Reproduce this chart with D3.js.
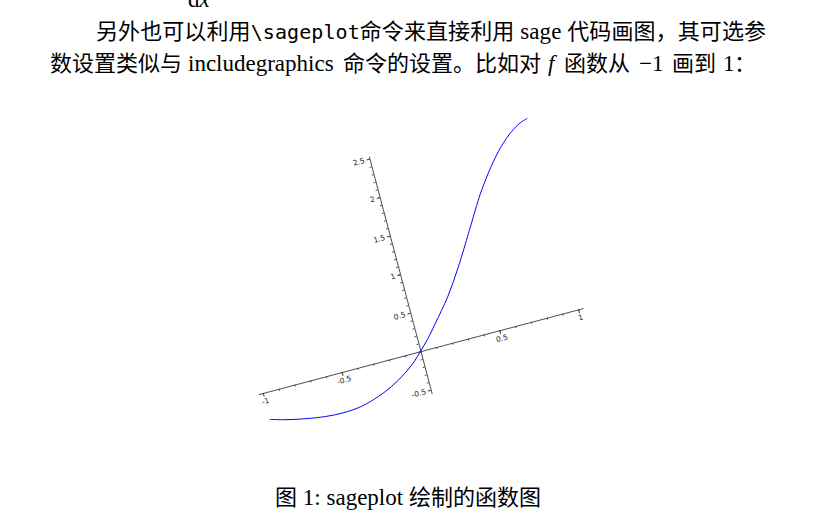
<!DOCTYPE html>
<html>
<head>
<meta charset="utf-8">
<script src="https://cdn.jsdelivr.net/npm/d3@7"></script>
<style>
  body { margin: 0; background: #fff; }
  .cjk { font-family: "Noto Sans CJK SC", sans-serif; }
  .rm { font-family: "Liberation Serif", serif; font-size: 23px; }
  .tt { font-family: "DejaVu Sans Mono", monospace; font-size: 20px; }
  .tick text { font-family: "DejaVu Sans", sans-serif; font-size: 7.5px; fill: #222; }
  .domain, .tick line { stroke: #333; stroke-width: 0.8; }
</style>
</head>
<body>
<svg width="828" height="527"></svg>
<script>
// curve: x and f(x)
var xVals = [-1, -0.91, -0.79, -0.67, -0.55, -0.435, -0.32, -0.225, -0.125, -0.05, 0,
             0.06, 0.13, 0.25, 0.36, 0.47, 0.505, 0.58, 0.62, 0.71, 0.8, 0.885, 0.95, 1];
var fVals = [-0.342, -0.394, -0.447, -0.485, -0.498, -0.478, -0.413, -0.333, -0.215, -0.10, 0,
             0.12, 0.285, 0.58, 0.91, 1.275, 1.393, 1.645, 1.768, 2.015, 2.222, 2.371, 2.449, 2.482];

// axis extents and ticks
var xDomain = [-1.03, 1.03];
var yDomain = [-0.55, 2.53];
var xTicks = [-1, -0.5, 0.5, 1];
var xTickLabels = ["-1", "-0.5", "0.5", "1"];
var yTicks = [-0.5, 0.5, 1, 1.5, 2, 2.5];
var yTickLabels = ["-0.5", "0.5", "1", "1.5", "2", "2.5"];

var svg = d3.select('svg');

// rotated plot, origin where the axes cross
var xUnit = 163.1, yUnit = 79.7;
var plot = svg.append('g')
  .attr('transform', 'translate(420.4,351.3) rotate(-14.85)');

var x = d3.scaleLinear().domain(xDomain).range([xDomain[0] * xUnit, xDomain[1] * xUnit]);
var y = d3.scaleLinear().domain(yDomain).range([-yDomain[0] * yUnit, -yDomain[1] * yUnit]);

var xMinor = d3.range(-10, 11).map(function(d){ return d / 10; });
var yMinor = d3.range(-5, 26).map(function(d){ return d / 10; });

// minor ticks first
plot.append('g')
  .attr('transform', 'translate(0,' + y(0) + ')')
  .call(d3.axisBottom(x).tickValues(xMinor).tickSize(2).tickFormat(''))
  .select('.domain').remove();
plot.append('g')
  .attr('transform', 'translate(' + x(0) + ',0)')
  .call(d3.axisLeft(y).tickValues(yMinor).tickSize(2).tickFormat(''))
  .select('.domain').remove();

// main axes
plot.append('g')
  .attr('transform', 'translate(0,' + y(0) + ')')
  .call(d3.axisBottom(x).tickValues(xTicks)
    .tickFormat(function(d, i){ return xTickLabels[i]; })
    .tickSize(4).tickPadding(1.5).tickSizeOuter(0));
plot.append('g')
  .attr('transform', 'translate(' + x(0) + ',0)')
  .call(d3.axisLeft(y).tickValues(yTicks)
    .tickFormat(function(d, i){ return yTickLabels[i]; })
    .tickSize(3).tickPadding(2).tickSizeOuter(0));

// the function
var line = d3.line()
  .x(function(d, i){ return x(xVals[i]); })
  .y(function(d){ return y(d); })
  .curve(d3.curveCatmullRom.alpha(0.5));

plot.append('path')
  .datum(fVals)
  .attr('d', line)
  .attr('fill', 'none')
  .attr('stroke', '#0000ff')
  .attr('stroke-width', 0.9);

// surrounding text of the page
var fs = 22;

// bottom of an equation cut off at the top
var eq = svg.append('text').attr('class', 'rm').attr('x', 188).attr('y', 7);
eq.append('tspan').text('d');
eq.append('tspan').attr('font-style', 'italic').text('x');
eq.append('tspan').attr('font-size', 15).attr('dy', -8).text('2');

// line 1, justified
var l1 = svg.append('text').attr('x', 96).attr('y', 39).attr('font-size', fs)
  .attr('textLength', 670).attr('lengthAdjust', 'spacing');
l1.append('tspan').attr('class', 'cjk').text('另外也可以利用');
l1.append('tspan').attr('class', 'tt').text('\\sageplot');
l1.append('tspan').attr('class', 'cjk').text('命令来直接利用');
l1.append('tspan').attr('class', 'rm').text('\u00a0sage\u00a0');
l1.append('tspan').attr('class', 'cjk').text('代码画图，其可选参');

// line 2, pieces placed where they stand
var l2 = svg.append('g').attr('font-size', fs);
var pieces = [
  {t: '数设置类似与', c: 'cjk', x: 50},
  {t: 'includegraphics', c: 'rm', x: 188},
  {t: '命令的设置。比如对', c: 'cjk', x: 343},
  {t: 'f', c: 'rm', x: 548, it: true},
  {t: '函数从', c: 'cjk', x: 564},
  {t: '\u22121', c: 'rm', x: 639},
  {t: '画到', c: 'cjk', x: 672},
  {t: '1', c: 'rm', x: 723},
  {t: '：', c: 'cjk', x: 734}
];
l2.selectAll('text').data(pieces).enter().append('text')
  .attr('class', function(d){ return d.c; })
  .attr('x', function(d){ return d.x; })
  .attr('y', 71)
  .attr('font-style', function(d){ return d.it ? 'italic' : null; })
  .text(function(d){ return d.t; });

// caption
var cap = svg.append('text').attr('x', 408).attr('y', 505).attr('font-size', fs)
  .attr('text-anchor', 'middle');
cap.append('tspan').attr('class', 'cjk').text('图');
cap.append('tspan').attr('class', 'rm').text('\u00a01:\u00a0sageplot\u00a0');
cap.append('tspan').attr('class', 'cjk').text('绘制的函数图');
</script>
</body>
</html>
